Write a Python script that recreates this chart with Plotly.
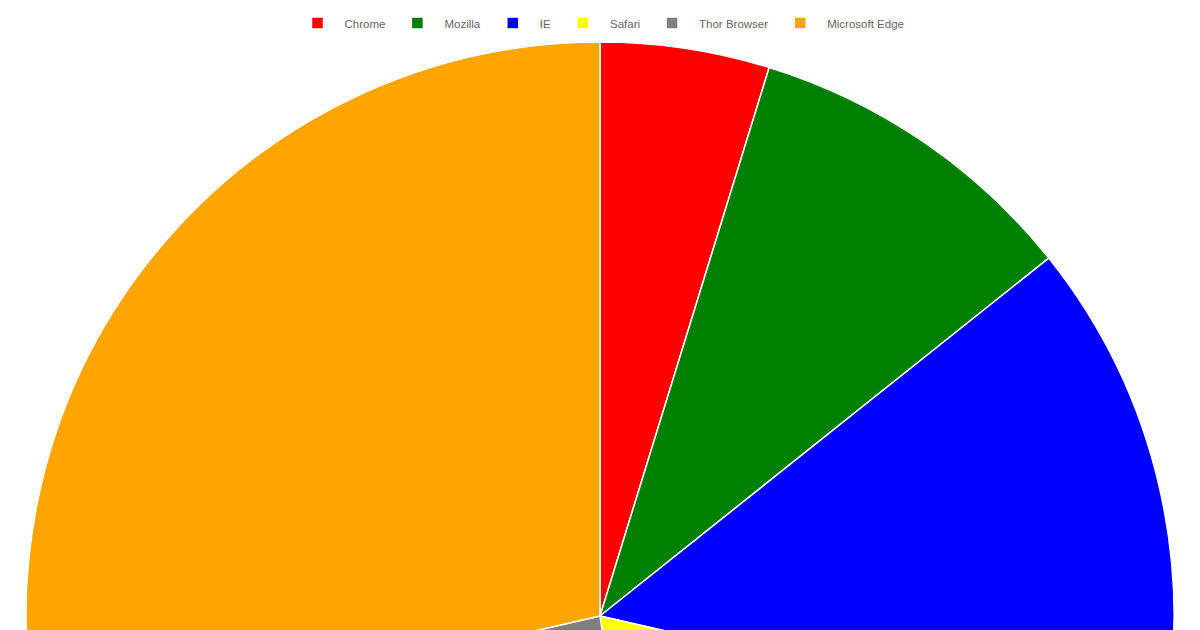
import plotly.graph_objects as go

labels = ["Chrome", "Mozilla", "IE", "Safari", "Thor Browser", "Microsoft Edge"]
values = [10, 20, 30, 40, 50, 60]
colors = ["red", "green", "blue", "yellow", "grey", "orange"]

W, H = 1200, 1232
top, bottom = 42, 42
plot_h = H - top - bottom

fig = go.Figure(go.Pie(
    labels=labels,
    values=values,
    sort=False,
    direction="clockwise",
    rotation=0,
    textinfo="none",
    hoverinfo="label+value",
    marker=dict(colors=colors, line=dict(color="white", width=1.5)),
))

fig.update_layout(
    width=W,
    height=H,
    margin=dict(l=0, r=0, t=top, b=bottom, autoexpand=False),
    paper_bgcolor="white",
    font=dict(family="Liberation Sans, Arial, sans-serif", size=12, color="#666666"),
    legend=dict(
        orientation="h",
        x=0.5, xanchor="center",
        y=1 + 19 / plot_h, yanchor="middle",
        font=dict(size=11.5, color="#666666"),
        itemwidth=44,
    ),
)

fig.write_html(
    "out.html",
    config={"displayModeBar": False},
    post_script="document.body.style.margin='0';document.body.style.overflow='hidden';",
)
